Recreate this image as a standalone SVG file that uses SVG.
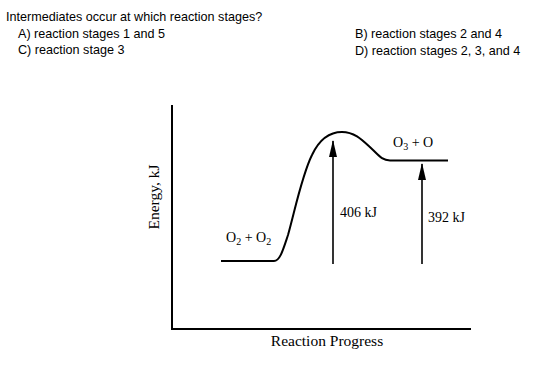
<svg xmlns="http://www.w3.org/2000/svg" width="548" height="368" viewBox="0 0 548 368">
<defs>
<style>
.q{font-family:"Liberation Sans",Arial,sans-serif;font-size:12.6px;fill:#000}
.t{font-family:"Liberation Serif","Times New Roman",serif;font-size:14px;fill:#000}
.ax{font-size:15.5px}
.ln{fill:none;stroke:#000;stroke-width:2}
.ar{stroke:#000;stroke-width:1.6;fill:none}
.hd{fill:#000}
</style>
<marker id="ah" viewBox="0 0 17 8" refX="16" refY="4" markerWidth="17" markerHeight="8" markerUnits="userSpaceOnUse" orient="auto">
<path d="M0,0 L17,4 L0,8 Z" class="hd"/>
</marker>
</defs>
<rect width="548" height="368" fill="#fff"/>
<g id="question">
<text class="q" x="6" y="21">Intermediates occur at which reaction stages?</text>
<text class="q" x="18" y="38">A) reaction stages 1 and 5</text>
<text class="q" x="18" y="54">C) reaction stage 3</text>
<text class="q" x="355" y="38">B) reaction stages 2 and 4</text>
<text class="q" x="355" y="55">D) reaction stages 2, 3, and 4</text>
</g>
<g id="axes">
<path class="ln" d="M172,105 L172,329 L471,329"/>
<text class="t ax" transform="translate(159,197) rotate(-90)" text-anchor="middle">Energy, kJ</text>
<text class="t ax" x="327" y="346" text-anchor="middle">Reaction Progress</text>
</g>
<g id="curve">
<path class="ln" d="M221,261 L274,261 C280,261 283,250 288,235 C295,210 302,175 312,155 C320,138 330,132 342,132 C356,132 364,142 373,150 C380,157 383,160.5 390,160.5 L448,160.5"/>
</g>
<g id="labels">
<text class="t" x="226" y="242">O<tspan font-size="10" dy="3">2</tspan><tspan dy="-3"> + O</tspan><tspan font-size="10" dy="3">2</tspan></text>
<text class="t" x="393" y="147">O<tspan font-size="10" dy="3">3</tspan><tspan dy="-3"> + O</tspan></text>
<text class="t" x="340" y="217">406 kJ</text>
<text class="t" x="428" y="222">392 kJ</text>
</g>
<g id="connectors">
<line class="ar" x1="333" y1="264" x2="333" y2="141" marker-end="url(#ah)"/>
<line class="ar" x1="422" y1="264" x2="422" y2="164" marker-end="url(#ah)"/>
</g>
</svg>
